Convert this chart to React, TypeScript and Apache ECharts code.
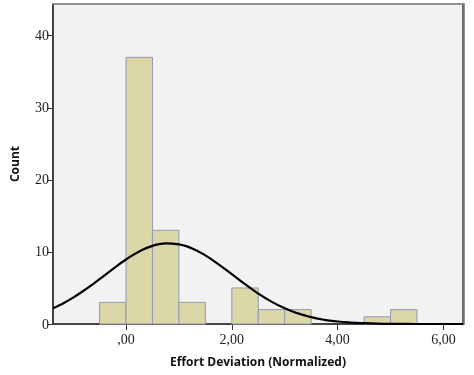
import React, { useEffect, useRef } from "react";
import * as echarts from "echarts";

// Histogram bins: [binStart, binEnd, count]
const binStarts = [-0.5, 0.0, 0.5, 1.0, 2.0, 2.5, 3.0, 4.5, 5.0];
const binWidth = 0.5;
const counts = [3, 37, 13, 3, 5, 2, 2, 1, 2];

// Normal curve
const curveX = [-1.38, -1.25, -1.0, -0.75, -0.5, -0.25, 0.0, 0.25, 0.5, 0.75, 1.0, 1.25, 1.5, 1.75, 2.0, 2.25, 2.5, 2.75, 3.0, 3.25, 3.5, 3.75, 4.0, 4.25, 4.5, 4.75, 5.0, 5.5, 6.0, 6.37];
const curveY = [2.18, 2.63, 3.66, 4.88, 6.23, 7.63, 8.95, 10.06, 10.84, 11.19, 11.06, 10.48, 9.52, 8.28, 6.91, 5.52, 4.22, 3.1, 2.18, 1.47, 0.95, 0.58, 0.35, 0.2, 0.11, 0.05, 0.02, 0.0, 0.0, 0.0];

const xTicks = [0, 2, 4, 6];
const yTicks = [0, 10, 20, 30, 40];

const fmtX = (v: number) => {
  const s = v.toFixed(2).replace(".", ",");
  return s.startsWith("0,") ? s.slice(1) : s;
};

const X_MIN = -1.38;
const X_MAX = 6.37;
const Y_MAX = 44.4;

export default function App() {
  const ref = useRef<HTMLDivElement>(null);
  useEffect(() => {
    if (!ref.current) return;
    const chart = echarts.init(ref.current, null, { renderer: "svg" });
    const barData = binStarts.map((s, i) => [s, s + binWidth, counts[i]]);
    const titleStyle = { fontFamily: "Open Sans", fontWeight: "bold", fontSize: 12, color: "#111" };
    chart.setOption({
      animation: false,
      grid: {
        left: 52,
        right: 11,
        top: 4,
        bottom: 51,
        show: true,
        backgroundColor: "#f2f2f2",
        borderColor: "#7a7a7a",
        borderWidth: 2,
      },
      xAxis: [
        {
          type: "value",
          min: X_MIN,
          max: X_MAX,
          name: "Effort Deviation (Normalized)",
          nameLocation: "middle",
          nameGap: 31,
          nameTextStyle: titleStyle,
          axisLine: { show: true, onZero: false, lineStyle: { color: "#333", width: 1.5 } },
          axisTick: { show: true, length: 6, customValues: xTicks, lineStyle: { color: "#333" } },
          axisLabel: {
            customValues: xTicks,
            formatter: fmtX,
            fontFamily: "Liberation Serif",
            fontSize: 14,
            color: "#222",
            margin: 8,
          },
          splitLine: { show: false },
        },
        {
          type: "value",
          position: "top",
          min: X_MIN,
          max: X_MAX,
          axisLine: { show: true, onZero: false, lineStyle: { color: "#9a9a9a", width: 1.5 } },
          axisTick: { show: false },
          axisLabel: { show: false },
          splitLine: { show: false },
        },
      ],
      yAxis: [
        {
          type: "value",
          min: 0,
          max: Y_MAX,
          name: "Count",
          nameLocation: "middle",
          nameGap: 33,
          nameTextStyle: titleStyle,
          axisLine: { show: true, onZero: false, lineStyle: { color: "#333", width: 1.5 } },
          axisTick: { show: true, length: 6, customValues: yTicks, lineStyle: { color: "#333" } },
          axisLabel: {
            customValues: yTicks,
            fontFamily: "Liberation Serif",
            fontSize: 14,
            color: "#222",
            margin: 4,
          },
          splitLine: { show: false },
        },
        {
          type: "value",
          position: "right",
          min: 0,
          max: Y_MAX,
          axisLine: { show: true, onZero: false, lineStyle: { color: "#6e6e6e", width: 2.5 } },
          axisTick: { show: false },
          axisLabel: { show: false },
          splitLine: { show: false },
        },
      ],
      series: [
        {
          type: "custom",
          data: barData,
          encode: { x: [0, 1], y: 2 },
          renderItem: (params: any, api: any) => {
            const p0 = api.coord([api.value(0), api.value(2)]);
            const p1 = api.coord([api.value(1), 0]);
            return {
              type: "rect",
              shape: { x: p0[0], y: p0[1], width: p1[0] - p0[0], height: p1[1] - p0[1] },
              style: { fill: "#dbd7a7", stroke: "#9499b4", lineWidth: 1 },
            };
          },
          z: 2,
        },
        {
          type: "line",
          data: curveX.map((x, i) => [x, curveY[i]]),
          smooth: true,
          showSymbol: false,
          symbol: "none",
          lineStyle: { color: "#000", width: 2.2 },
          z: 3,
        },
      ],
    });
    return () => chart.dispose();
  }, []);
  return (
    <div
      ref={ref}
      style={{ position: "fixed", left: 0, top: 0, width: 474, height: 375 }}
    />
  );
}
